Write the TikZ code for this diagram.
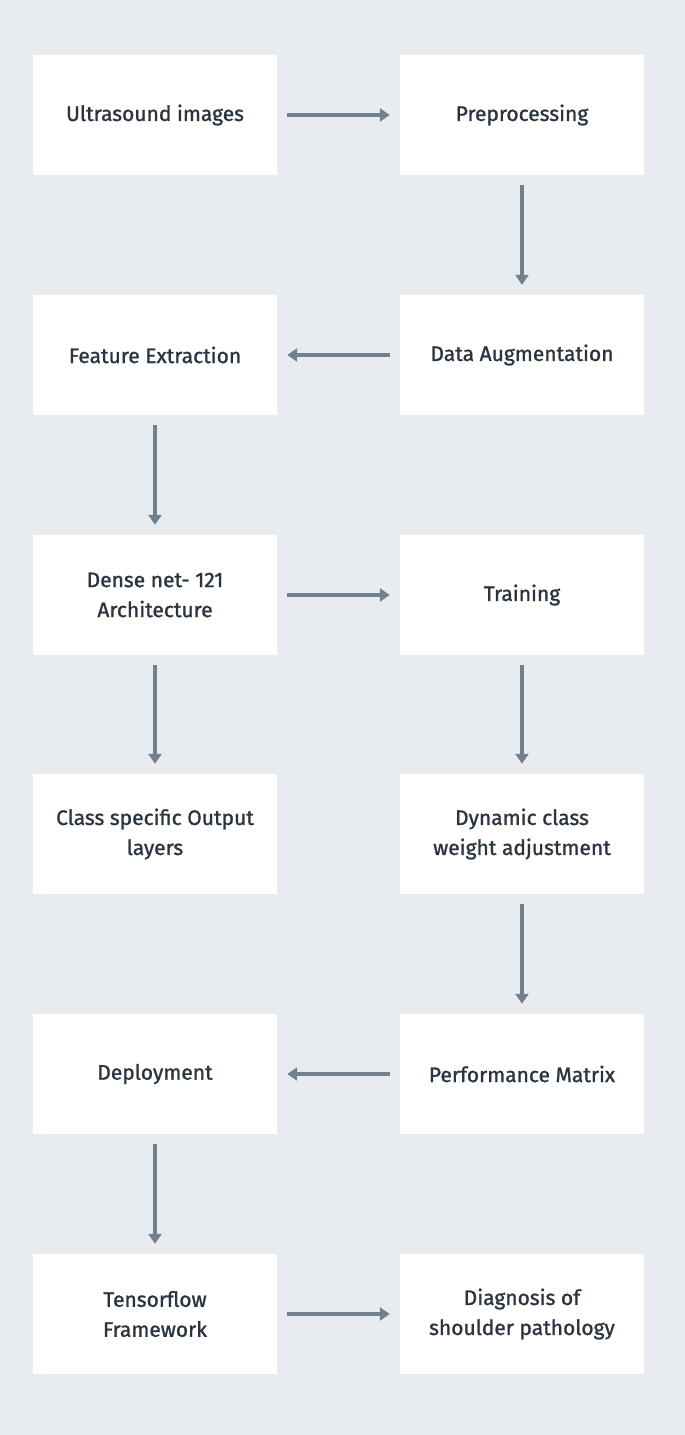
\documentclass[tikz,border=0pt]{standalone}
\usepackage{fontspec}
\setmainfont{Fira Sans}
\usetikzlibrary{arrows.meta}
\definecolor{bg}{HTML}{E8ECF0}
\definecolor{arr}{HTML}{6F8090}
\definecolor{txt}{HTML}{2A3440}
\begin{document}
\begin{tikzpicture}[x=1pt,y=-1pt,
  box/.style={fill=white,minimum width=244pt,minimum height=120pt,inner sep=0pt,align=center,text=txt,font=\fontsize{21}{30}\selectfont\addfontfeature{FakeBold=1.2}},
  conn/.style={draw=arr,line width=4pt,-{Triangle[length=10pt,width=13pt]},shorten <=10pt,shorten >=10pt}]
\fill[bg] (0,0) rectangle (685,1435);
\useasboundingbox (0,0) rectangle (685,1435);
\node[box] (a) at (155,115) {Ultrasound images};
\node[box] (b) at (522,115) {Preprocessing};
\node[box] (c) at (155,355) {Feature Extraction};
\node[box] (d) at (522,355) {Data Augmentation};
\node[box] (e) at (155,595) {Dense net- 121\\Architecture};
\node[box] (f) at (522,595) {Training};
\node[box] (g) at (155,834) {Class specific Output\\layers};
\node[box] (h) at (522,834) {Dynamic class\\weight adjustment};
\node[box] (i) at (155,1074) {Deployment};
\node[box] (j) at (522,1074) {Performance Matrix};
\node[box] (k) at (155,1314) {Tensorflow\\Framework};
\node[box] (l) at (522,1314) {Diagnosis of\\shoulder pathology};
\draw[conn] (a) -- (b);
\draw[conn] (b) -- (d);
\draw[conn] (d) -- (c);
\draw[conn] (c) -- (e);
\draw[conn] (e) -- (f);
\draw[conn] (e) -- (g);
\draw[conn] (f) -- (h);
\draw[conn] (h) -- (j);
\draw[conn] (j) -- (i);
\draw[conn] (i) -- (k);
\draw[conn] (k) -- (l);
\end{tikzpicture}
\end{document}
